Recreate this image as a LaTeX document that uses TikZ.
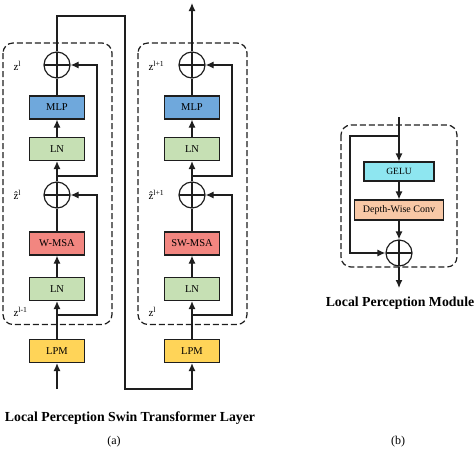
\documentclass[tikz,border=0pt]{standalone}
\usepackage{fontspec}
\setmainfont{Liberation Serif}
\usetikzlibrary{positioning,arrows.meta}

\definecolor{mlpblue}{RGB}{111,168,220}
\definecolor{lngreen}{RGB}{198,224,180}
\definecolor{msared}{RGB}{242,134,128}
\definecolor{lpmyellow}{RGB}{255,212,88}
\definecolor{gelucyan}{RGB}{142,230,240}
\definecolor{convpeach}{RGB}{248,200,166}
\definecolor{linegray}{RGB}{30,30,30}

\tikzset{
    blk/.style={draw=linegray, line width=1.2pt, minimum width=55pt, minimum height=23pt,
                inner sep=0pt, font=\fontsize{10.5}{11}\selectfont},
    plusc/.style={circle, draw=linegray, line width=1.2pt, minimum size=26pt, inner sep=0pt,
                  path picture={\draw[line width=1.2pt]
                      (path picture bounding box.north) -- (path picture bounding box.south)
                      (path picture bounding box.west) -- (path picture bounding box.east);}},
    dashbox/.style={draw=linegray, line width=1.2pt, dash pattern=on 6pt off 3pt, rounded corners=10pt},
    zlabel/.style={anchor=west, inner sep=0pt, font=\fontsize{11}{12}\selectfont},
    capt/.style={font=\fontsize{13.8}{15}\selectfont\bfseries},
    arr/.style={-{Latex[length=8pt,width=7pt]}}
}

\begin{document}
\begin{tikzpicture}[x=1pt, y=-1pt, line width=1.2pt, draw=linegray]
                \useasboundingbox (0,0) rectangle (474,451);

                % two blocks of the layer
                \foreach \c/\x/\att/\za/\zb/\zc in {A/57/W-MSA/l/l/l-1, B/192/SW-MSA/l+1/l+1/l}
                    {
                        \draw[dashbox] (\x-54,43) rectangle (\x+55,324.5);

                        \node (pt\c) at (\x,65)[plusc]{};
                        \node (mlp\c) at (\x,107.5)[blk,fill=mlpblue]{MLP};
                        \node (lnt\c) at (\x,149)[blk,fill=lngreen]{LN};
                        \node (pb\c) at (\x,195)[plusc]{};
                        \node (msa\c) at (\x,243.5)[blk,fill=msared]{\att};
                        \node (lnb\c) at (\x,289)[blk,fill=lngreen]{LN};
                        \node (lpm\c) at (\x,351)[blk,fill=lpmyellow]{LPM};

                        \coordinate (ra\c) at (\x,176);
                        \coordinate (rb\c) at (\x,315);

                        \draw[arr] (lpm\c) -- (lnb\c);
                        \draw[arr] (lnb\c) -- (msa\c);
                        \draw (msa\c) -- (pb\c);
                        \draw[arr] (pb\c) -- (lnt\c);
                        \draw[arr] (lnt\c) -- (mlp\c);
                        \draw (mlp\c) -- (pt\c);

                        % residual paths
                        \draw[arr] (rb\c) -- ++(40,0) |- (pb\c);
                        \draw[arr] (ra\c) -- ++(40,0) |- (pt\c);

                        \node[zlabel] at (\x-44,66){z\textsuperscript{\za}};
                        \node[zlabel] at (\x-44,195){\^{z}\textsuperscript{\zb}};
                        \node[zlabel] at (\x-44,312){z\textsuperscript{\zc}};
                    }

                \coordinate (inA) at (57,389);
                \coordinate (skipa) at (57,16);
                \coordinate (skipb) at (125,389);
                \coordinate (outB) at (192,3);

                \draw[arr] (inA) -- (lpmA);
                \draw[arr] (ptA) -- (skipa) -| (skipb) -| (lpmB);
                \draw[arr] (ptB) -- (outB);

                % local perception module
                \draw[dashbox] (341,125) rectangle (457,267);
                \node (gelu) at (399,171.5)[blk,minimum width=70pt,minimum height=19pt,fill=gelucyan,font=\fontsize{9.5}{10}\selectfont]{GELU};
                \node (dwc) at (399,210)[blk,minimum width=89pt,minimum height=20pt,fill=convpeach,font=\fontsize{10}{11}\selectfont]{Depth-Wise Conv};
                \node (pc) at (399,253)[plusc]{};

                \coordinate (lin) at (399,117);
                \coordinate (lbr) at (399,136);
                \coordinate (lout) at (399,288);

                \draw[arr] (lin) -- (gelu);
                \draw[arr] (lbr) -- ++(-49,0) |- (pc);
                \draw[arr] (gelu) -- (dwc);
                \draw[arr] (dwc) -- (pc);
                \draw[arr] (pc) -- (lout);

                \node[capt] at (130,418){Local Perception Swin Transformer Layer};
                \node[capt] at (400,303){Local Perception Module};
                \node[font=\fontsize{12}{13}\selectfont] at (114,442){(a)};
                \node[font=\fontsize{12}{13}\selectfont] at (398,442){(b)};
            \end{tikzpicture}
\end{document}
